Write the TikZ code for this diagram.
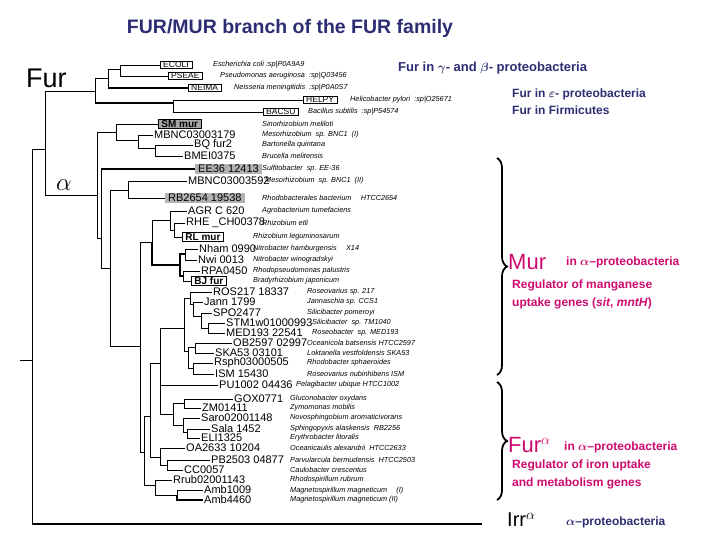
\documentclass[tikz,border=0pt]{standalone}
\usepackage{amsmath}
\usepackage{fontspec}
\setmainfont{Liberation Sans}
\usetikzlibrary{positioning,calc,decorations.pathreplacing}
\definecolor{navy}{RGB}{45,45,115}
\definecolor{mag}{RGB}{205,10,110}
\tikzset{
gene/.style={anchor=west,inner sep=1pt,font={\fontsize{11pt}{11}\selectfont}},
tag/.style={gene,draw,inner xsep=3pt,inner ysep=0.5pt,font={\fontsize{8.5pt}{9}\selectfont}},
keygene/.style={gene,draw,thick,inner xsep=3pt,font={\bfseries\fontsize{10pt}{10}\selectfont}},
shade/.style={gene,fill=black!30,inner xsep=3pt},
sp/.style={anchor=west,inner sep=0pt,font={\itshape\fontsize{7.3pt}{7}\selectfont}},
br/.style={line width=0.6pt},
heavy/.style={line width=1.8pt},
brc/.style={decorate,decoration={brace,amplitude=10pt},line width=1.8pt},
font={\fontsize{8pt}{12}\selectfont}
}
\begin{document}
\begin{tikzpicture}[x=1pt,y=-1pt]
\useasboundingbox (0,0) rectangle (720,540);
% headings
\node[navy,font={\bfseries\fontsize{19.5pt}{22}\selectfont}] (title) at (290,28) {FUR/MUR branch of the FUR family};
\node[anchor=west,inner sep=0pt,font={\fontsize{27pt}{27}\selectfont}] (furlab) at (26,78) {Fur};
\node[inner sep=0pt,font={\fontsize{24pt}{24}\selectfont}] (alab) at (64,185) {$\alpha$};
\node[anchor=west,navy,inner sep=0pt,font={\bfseries\fontsize{13pt}{14}\selectfont}] (gb) at (398,68) {Fur in $\boldsymbol{\gamma}$- and $\boldsymbol{\beta}$- proteobacteria};
\node[anchor=west,navy,inner sep=0pt,font={\bfseries\fontsize{12pt}{14}\selectfont}] (eps) at (512,94) {Fur in $\boldsymbol{\varepsilon}$- proteobacteria};
\node[anchor=west,navy,inner sep=0pt,font={\bfseries\fontsize{12pt}{14}\selectfont}] (firm) at (512,110) {Fur in Firmicutes};

% leaves
\node[tag] (ecoli) at (160,65) {ECOLI};
\node[tag] (pseae) at (168,76) {PSEAE};
\node[tag] (neima) at (188,88) {NEIMA};
\node[tag] (helpy) at (303,100) {HELPY};
\node[tag] (bacsu) at (263,112) {BACSU};
\node[keygene,fill=black!35] (smmur) at (158,124) {SM mur};
\node[gene] (mbncA) at (153,135) {MBNC03003179};
\node[gene] (bq) at (193,145) {BQ fur2};
\node[gene] (bmei) at (183,156) {BMEI0375};
\node[shade] (ee36) at (195,169) {EE36 12413};
\node[gene] (mbncB) at (187,181) {MBNC03003592};
\node[shade] (rb) at (165,198) {RB2654 19538};
\node[gene] (agr) at (187,211) {AGR C 620};
\node[gene] (rhe) at (185,223) {RHE \_CH00378};
\node[keygene] (rl) at (182,237) {RL mur};
\node[gene] (nham) at (198,249) {Nham 0990};
\node[gene] (nwi) at (197,260) {Nwi 0013};
\node[gene] (rpa) at (200,271) {RPA0450};
\node[keygene] (bj) at (191,281) {BJ fur};
\node[gene] (ros) at (212,292) {ROS217 18337};
\node[gene] (jann) at (203,302) {Jann 1799};
\node[gene] (spo) at (212,313) {SPO2477};
\node[gene] (stm) at (225,323) {STM1w01000993};
\node[gene] (med) at (225,333) {MED193 22541};
\node[gene] (ob) at (232,343) {OB2597 02997};
\node[gene] (ska) at (214,353) {SKA53 03101};
\node[gene] (rsph) at (213,363) {Rsph03000505};
\node[gene] (ism) at (214,374) {ISM 15430};
\node[gene] (pu) at (218,385) {PU1002 04436};
\node[gene] (gox) at (233,399) {GOX0771};
\node[gene] (zm) at (201,408) {ZM01411};
\node[gene] (saro) at (200,418) {Saro02001148};
\node[gene] (sala) at (210,429) {Sala 1452};
\node[gene] (eli) at (200,438) {ELI1325};
\node[gene] (oa) at (185,448) {OA2633 10204};
\node[gene] (pb) at (210,460) {PB2503 04877};
\node[gene] (cc) at (183,470) {CC0057};
\node[gene] (rrub) at (172,480) {Rrub02001143};
\node[gene] (amA) at (203,490) {Amb1009};
\node[gene] (amB) at (203,500) {Amb4460};

% species
\node[sp] at (213,65) {Escherichia coli :sp|P0A9A9};
\node[sp] at (220,76) {Pseudomonas aeruginosa \ :sp|Q03456};
\node[sp] at (234,88) {Neisseria meningitidis \ :sp|P0A0S7};
\node[sp] at (350,100) {Helicobacter pylori \ :sp|O25671};
\node[sp] at (308,112) {Bacillus subtilis \ :sp|P54574};
\node[sp] at (262,124) {Sinorhizobium meliloti};
\node[sp] at (262,135) {Mesorhizobium \ sp. BNC1 \ (I)};
\node[sp] at (262,145) {Bartonella quintana};
\node[sp] at (262,156) {Brucella melitensis};
\node[sp] at (262,169) {Sulfitobacter \ sp. EE-36};
\node[sp] at (265,181) {Mesorhizobium \ sp. BNC1 \ (II)};
\node[sp] at (262,198) {Rhodobacterales bacterium \quad HTCC2654};
\node[sp] at (262,211) {Agrobacterium tumefaciens};
\node[sp] at (262,223) {Rhizobium etli};
\node[sp] at (253,237) {Rhizobium leguminosarum};
\node[sp] at (253,249) {Nitrobacter hamburgensis \quad X14};
\node[sp] at (253,260) {Nitrobacter winogradskyi};
\node[sp] at (253,271) {Rhodopseudomonas palustris};
\node[sp] at (253,281) {Bradyrhizobium japonicum};
\node[sp] at (307,292) {Roseovarius sp. 217};
\node[sp] at (307,302) {Jannaschia sp. CCS1};
\node[sp] at (307,313) {Silicibacter pomeroyi};
\node[sp] at (312,323) {Silicibacter \ sp. TM1040};
\node[sp] at (312,333) {Roseobacter \ sp. MED193};
\node[sp] at (307,343) {Oceanicola batsensis HTCC2597};
\node[sp] at (307,353) {Loktanella vestfoldensis SKA53};
\node[sp] at (307,363) {Rhodobacter sphaeroides};
\node[sp] at (307,374) {Roseovarius nubinhibens ISM};
\node[sp] at (296,385) {Pelagibacter ubique HTCC1002};
\node[sp] at (290,399) {Gluconobacter oxydans};
\node[sp] at (290,408) {Zymomonas mobilis};
\node[sp] at (290,418) {Novosphingobium aromaticivorans};
\node[sp] at (290,429) {Sphingopyxis alaskensis \ RB2256};
\node[sp] at (290,438) {Erythrobacter litoralis};
\node[sp] at (290,448) {Oceanicaulis alexandrii \ HTCC2633};
\node[sp] at (290,460) {Parvularcula bermudensis \ HTCC2503};
\node[sp] at (290,470) {Caulobacter crescentus};
\node[sp] at (290,480) {Rhodospirillum rubrum};
\node[sp] at (290,491) {Magnetospirillum magneticum \quad (I)};
\node[sp] at (290,500) {Magnetospirillum magneticum (II)};

% inner nodes
\coordinate (r0) at (20,360);
\coordinate (r) at (32,360);
\coordinate (irr) at (482,524);
\coordinate (top) at (45,149);
\coordinate (gam) at (95,91);
\coordinate (g1) at (108,78);
\coordinate (g2) at (120,69);
\coordinate (hb) at (173,103);
\coordinate (alpha) at (97,195);
\coordinate (a1) at (116,132);
\coordinate (a3) at (138,140);
\coordinate (a4) at (155,148);
\coordinate (a2) at (101,238);
\coordinate (a5) at (110,268);
\coordinate (a6) at (128,190);
\coordinate (a7) at (140,346);
\coordinate (rh) at (152,242);
\coordinate (rh1) at (170,220);
\coordinate (rh2) at (174,230);
\coordinate (brd) at (180,265);
\coordinate (br1) at (185,254);
\coordinate (br2) at (183,276);
\coordinate (b1) at (144,452);
\coordinate (m1) at (155,485);
\coordinate (m2) at (177,495);
\coordinate (b2) at (150,416);
\coordinate (c1) at (160,457);
\coordinate (c2) at (167,465);
\coordinate (b3) at (160,363);
\coordinate (s1) at (173,414);
\coordinate (s2) at (184,403);
\coordinate (s3) at (183,425);
\coordinate (s4) at (187,432);
\coordinate (d1) at (184,328);
\coordinate (e1) at (190,298);
\coordinate (e2) at (193,304);
\coordinate (e3) at (201,316);
\coordinate (e4) at (208,328);
\coordinate (e5) at (188,351);
\coordinate (e6) at (195,347);
\coordinate (e7) at (193,368);

% branches
\draw[br] (r0) -- (r);
\draw[br] (r) |- (top);
\draw[br] (r) -- (r|-irr);
\draw[heavy] (r|-irr) -- (irr);
\draw[br] (top) |- (gam);
\draw[br] (top) |- (alpha);
\draw[br] (gam) |- (g1);
\draw[br] (gam) -- (gam|-hb);
\draw[heavy] (gam|-hb) -- (hb);
\draw[br] (g1) |- (g2);
\draw[br] (g1) -- (g1|-neima);
\draw[heavy] (g1|-neima) -- (neima);
\draw[br] (g2) |- (ecoli);
\draw[br] (g2) |- (pseae);
\draw[br] (hb) |- (helpy);
\draw[br] (hb) |- (bacsu);
\draw[br] (alpha) |- (a1);
\draw[br] (alpha) |- (a2);
\draw[br] (a1) |- (smmur);
\draw[br] (a1) |- (a3);
\draw[br] (a3) |- (mbncA);
\draw[br] (a3) |- (a4);
\draw[br] (a4) |- (bq);
\draw[br] (a4) |- (bmei);
\draw[br] (a2) -- (a2|-ee36);
\draw[heavy] (a2|-ee36) -- (ee36);
\draw[br] (a2) |- (a5);
\draw[br] (a5) |- (a6);
\draw[br] (a5) |- (a7);
\draw[br] (a6) |- (mbncB);
\draw[br] (a6) |- (rb);
\draw[br] (a7) |- (rh);
\draw[br] (a7) |- (b1);
\draw[br] (rh) |- (rh1);
\draw[heavy] (rh) |- (brd);
\draw[br] (rh1) |- (agr);
\draw[br] (rh1) |- (rh2);
\draw[br] (rh2) |- (rhe);
\draw[br] (rh2) |- (rl);
\draw[heavy] (brd) |- (br1);
\draw[heavy] (brd) |- (br2);
\draw[br] (br1) |- (nham);
\draw[br] (br1) |- (nwi);
\draw[br] (br2) |- (rpa);
\draw[br] (br2) |- (bj);
\draw[br] (b1) |- (b2);
\draw[br] (b1) |- (m1);
\draw[br] (m1) |- (rrub);
\draw[br] (m1) |- (m2);
\draw[br] (m2) |- (amA);
\draw[heavy] (m2) |- (amB);
\draw[br] (b2) |- (b3);
\draw[br] (b2) |- (c1);
\draw[br] (c1) |- (oa);
\draw[br] (c1) |- (c2);
\draw[br] (c2) |- (pb);
\draw[br] (c2) |- (cc);
\draw[br] (b3) |- (d1);
\draw[br] (b3) |- (pu);
\draw[br] (b3) |- (s1);
\draw[br] (s1) |- (s2);
\draw[br] (s1) |- (s3);
\draw[br] (s2) |- (gox);
\draw[br] (s2) |- (zm);
\draw[br] (s3) |- (saro);
\draw[br] (s3) |- (s4);
\draw[br] (s4) |- (sala);
\draw[br] (s4) |- (eli);
\draw[br] (d1) |- (e1);
\draw[br] (d1) |- (e5);
\draw[br] (e1) |- (ros);
\draw[br] (e1) |- (e2);
\draw[br] (e2) |- (jann);
\draw[br] (e2) |- (e3);
\draw[br] (e3) |- (spo);
\draw[br] (e3) |- (e4);
\draw[br] (e4) |- (stm);
\draw[br] (e4) |- (med);
\draw[br] (e5) |- (e6);
\draw[br] (e5) |- (e7);
\draw[br] (e6) |- (ob);
\draw[br] (e6) |- (ska);
\draw[br] (e7) |- (rsph);
\draw[br] (e7) |- (ism);

% braces and groups
\coordinate (murtop) at (497,158);
\coordinate (murbot) at (497,375);
\coordinate (furtop) at (497,382);
\coordinate (furbot) at (497,500);
\draw[brc] (murtop) -- (murbot);
\draw[brc] (furtop) -- (furbot);
\node[anchor=west,mag,inner sep=0pt,font={\fontsize{22pt}{22}\selectfont}] (mur) at (508,262) {Mur};
\node[anchor=west,mag,inner sep=0pt,font={\bfseries\fontsize{12pt}{14}\selectfont}] (murin) at (566,262) {in $\boldsymbol{\alpha}$--proteobacteria};
\node[anchor=north west,mag,inner sep=0pt,align=left,font={\bfseries\fontsize{12pt}{18}\selectfont}] (murtxt) at (512,280) {Regulator of manganese\\uptake genes (\textit{sit}, \textit{mntH})};
\node[anchor=west,mag,inner sep=0pt,font={\fontsize{22pt}{22}\selectfont}] (fura) at (508,445) {Fur$^{\scriptstyle\alpha}$};
\node[anchor=west,mag,inner sep=0pt,font={\bfseries\fontsize{12pt}{14}\selectfont}] (furin) at (564,447) {in $\boldsymbol{\alpha}$--proteobacteria};
\node[anchor=north west,mag,inner sep=0pt,align=left,font={\bfseries\fontsize{12pt}{18}\selectfont}] (furtxt) at (512,460) {Regulator of iron uptake\\and metabolism genes};
\node[anchor=west,inner sep=0pt,font={\fontsize{20pt}{22}\selectfont}] (irrlab) at (507,520) {Irr$^{\scriptstyle\alpha}$};
\node[anchor=west,navy,inner sep=0pt,font={\bfseries\fontsize{12pt}{14}\selectfont}] (irrin) at (566,522) {$\boldsymbol{\alpha}$--proteobacteria};
\end{tikzpicture}
\end{document}
